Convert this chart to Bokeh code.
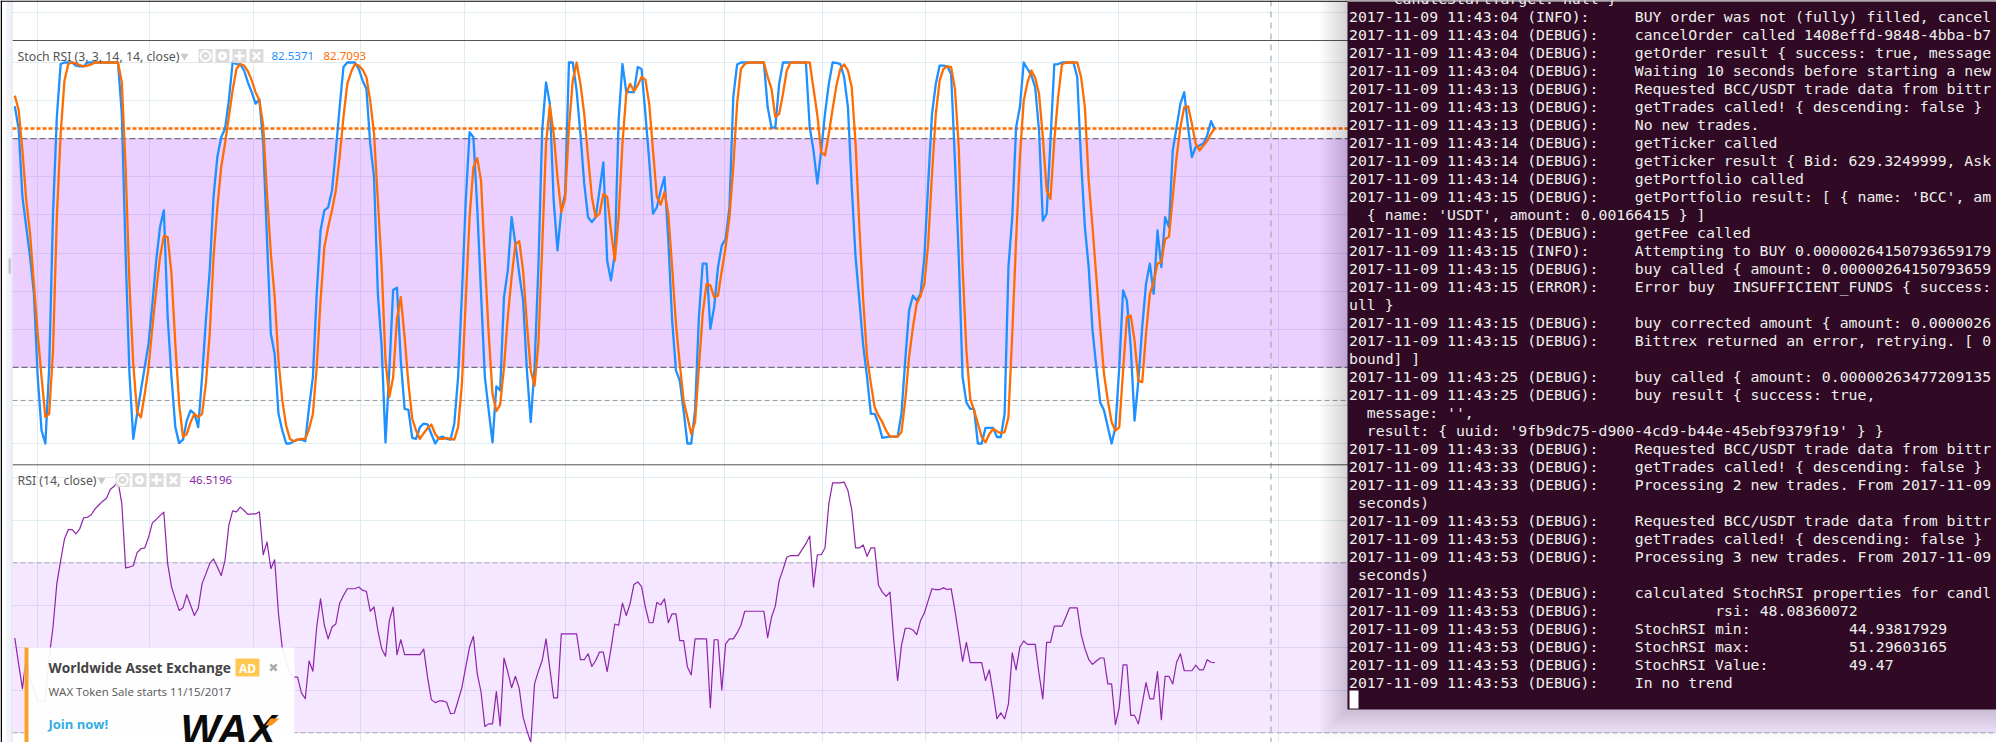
from bokeh.plotting import figure
from bokeh.models import Range1d, Grid, FixedTicker
from bokeh.core.properties import value
from bokeh.embed import file_html
from bokeh.resources import INLINE

stoch_k = [
 88.5,82.6,64.7,56.8,48.9,39.3,17.4,3.4,0,20.0,
 60.3,85.7,99.6,100,100,100,99.2,99,99,100,
 100,100,100,100,100,100,100,100,86.5,49.8,
 18.3,1.2,7.8,13.9,20,26.2,36.7,48,56.8,61.2,
 33.2,17.4,4.3,0.1,1,6,8.7,7.8,4.3,17.4,
 32.3,45.4,64.7,75.2,80.4,82.6,90,100,99.6,99.5,
 97.9,94.8,92.2,89.2,90.3,78.7,53.3,28.8,23.5,7.8,
 3.4,0,0,0.6,1,1,0.6,9.5,17.4,39.3,
 55.9,61.2,62,66.4,76.9,88.3,98.8,100,100,100,
 98.3,95.3,93.1,78.7,69.9,39.3,25.3,0.3,19.2,40.3,
 40.9,21.8,9.1,8.8,1.5,1.2,4.3,5.2,5,2.5,
 0,1.5,1.8,1.2,1,5.2,17.4,39.3,63.8,81.7,
 80.4,62,39.3,17.4,8.7,0.3,15,13.9,38.4,45.4,
 59.4,52.4,44.5,37.5,19.2,5.6,20,46.3,82.2,94.8,
 89.2,63.8,50.7,61.2,65.5,100,100,92.7,81.3,68.2,
 59.4,58.1,59.4,66.4,73.8,48,42.8,49.8,84.8,99.6,
 92.2,92.2,92.2,98.8,98.3,86.5,74.3,60.3,62,66.4,
 69.9,53.3,32.3,19.2,16.5,8.7,0,0,8.7,33.2,
 47.2,47.2,30.1,35.8,46.3,52,53.7,62,90.9,99.5,
 100,100,100,100,100,100,100,88.3,82.9,82.9,
 94.4,100,100,100,100,100,100,100,83,76.9,
 68.2,76.9,86.5,94.4,100,99.9,99.6,96.2,88.3,67.3,
 48.9,37.5,25.7,17.4,7.8,7.8,5.2,1.5,1.7,1.8,
 1.8,1.8,7.8,21.8,34.9,38.8,37.5,39.3,48.9,68.2,
 86.5,94.4,99.2,99.2,99,97,74.3,48.9,17.4,10.8,
 9.1,9.1,0,0,4.1,4.1,4.1,1.7,1.7,7.8,
 46.3,59.4,83,88.3,100,98.3,96.6,93.5,82.2,58.5,
 60.3,79.5,99.5,99.6,100,100,100,100,96.2,74.3,
 56.8,46.3,29.7,20,10.8,8.7,4.3,0,4.3,20,
 40.2,37.5,25.3,6,16.5,30.5,41.9,47.2,39.3,55.9,
 46.3,59.4,56.8,76.9,83,89.2,92.2,83,75.2,77.8,
 78.2,78.7,80.8,84.6,82.5]

stoch_d = [
 91.3,87.6,76.9,63.8,55,41.9,28.8,17.4,6.9,7.8,
 24.4,59.4,81.3,95.3,99.6,100,99.8,99.3,99,99.2,
 99.5,100,100,100,100,100,100,100,94.8,72.5,
 41.9,20.9,8.2,6.9,13,20,30.5,40.2,48.9,54.5,
 54.2,44.5,26.2,10.4,1.8,2.5,5.6,7.8,6.9,7.8,
 15.7,28.8,48.9,62,72.5,78.7,85.7,92.7,98.3,99.6,
 99.2,97.7,95.3,92.2,90,83.5,65.5,49.8,38.4,21.8,
 11.3,4.7,1.2,0.6,1,1.2,1.2,3.8,7.8,20,
 37.5,51.5,56.8,61.2,66.4,75.2,85.7,94.4,97.5,99.6,
 99.2,98.1,96.2,90,81.3,63.8,46.3,21.8,12.2,17.4,
 32.7,38.4,27.9,15.7,6.5,3.4,1.2,2.7,4,5,
 2.5,1.2,1.2,1.5,1.2,1,4.3,15.7,37.5,59.4,
 72.5,74.9,69,48,28.8,13,8.5,10.2,20,33.2,
 43.7,52.4,53.1,45.4,31.4,19.2,15.2,26.2,51.5,78.7,
 88.7,81.3,69.9,60.7,64.2,83,95.3,100,94.4,86.5,
 75.2,64.7,59.4,60.3,65.5,64.7,55.9,48,59.4,78.7,
 91.8,94.4,92.5,94,96.2,95.5,89.2,76.9,64.7,62.7,
 66,60.3,46.3,31.4,20.9,11.3,6.9,2.5,5.6,20,
 34,41.9,41.5,38.4,38.8,45.4,51.5,59.4,72.5,89.2,
 98.3,99.6,100,100,100,100,100,96.2,93.1,85.7,
 86.5,91.8,97.9,100,100,100,100,100,100,93.1,
 86.1,76.5,75.6,81.3,87.8,94,98.3,99.5,97.9,93.5,
 78.7,56.8,37.5,22.7,15.7,9.5,7.3,5.6,3.4,1.8,
 1.8,1.8,3,11.3,22.7,30.5,36.7,38.8,41.9,52.4,
 70.8,86.5,95.3,98.3,99,98.8,93.1,77.8,46.3,24.4,
 11.7,8.7,5.3,1.7,0.3,2.5,3.8,3.2,2.7,3,
 6.9,28.8,53.3,75.2,90,94.8,97.9,96,91.8,80.4,
 66.4,64.2,79.5,90.9,99.5,100,100,100,100,96.2,
 88.3,69,56.8,43.7,30.5,18.3,11.3,5.6,3.4,4.3,
 19.2,33.2,33.6,27,16.5,16.1,28.8,39.3,42.3,47.2,
 47.6,53.7,54.3,64.7,75.2,83,88.3,88.5,83.9,78.7,
 76.9,78.2,79.4,81.3,82.7]

rsi = [
 52.3,46.2,40.4,47.8,42.7,40,37.5,37.4,37.4,47.8,
 54.9,65.1,70.5,75.6,77.8,77.8,76.8,78,80.6,80.7,
 81.3,82.7,83.6,84.5,85.2,87.3,88,89.2,83.9,68.8,
 69,69.3,72.4,73.3,73.5,76,79.4,80.2,81.1,81.9,
 69.8,64.4,61.5,58.8,59.4,62.5,60,57.6,59.3,65.1,
 67.4,69.8,70.9,69,67,70.5,78.8,82.2,82,83.1,
 82.3,81.4,81.5,81.5,82,71.9,74.9,68.6,70.7,58,
 49.8,47,43.9,43.1,43.1,39.4,38,46.9,44.5,54.9,
 61.5,55.3,52.1,54.9,55.6,60.5,62.3,63.9,63.9,63.9,
 64.3,63.5,63.3,58.6,59.6,54.1,49.8,48,56.4,59.6,
 48.4,51.9,48.4,48.4,48.4,48.4,48.4,49.7,43.1,37.8,
 37.1,37.5,37.5,37.2,34.5,34.6,37.6,40.7,45.5,50.2,
 52.7,43.9,39.6,31.5,32.1,32.1,39.7,31.6,47.6,44.3,
 40.6,43.3,40.4,33.7,30.5,27.8,41.5,44.5,47,52.1,
 45.1,38.2,38.2,53.3,53.3,53.3,53.3,53.3,47.2,47.2,
 48.6,45.6,47,49,49,44.4,49.8,55.6,55.3,60.5,
 57.6,60.4,64.9,65.5,64.4,59.6,55.9,55.9,60.7,60.1,
 61.5,55.9,58,58,51.7,51.7,45.5,43.6,52.1,52.1,
 52.1,52.1,35.9,51.9,51.9,40.1,50.9,52.1,52.1,53.5,
 55.3,58.6,58.6,58.6,58.6,58.6,58.6,52.4,57.2,59.8,
 65.8,68.4,71.3,71.7,71.7,71.7,73.1,74.5,76.3,64.3,
 71.9,71.9,73.5,83.9,88.8,88.8,88.8,89,87,82.5,
 73.5,73.5,74.2,71.5,73.5,73.5,64.7,63.1,62.1,63.1,
 51.7,42.3,50.5,54.6,54.6,54.2,53.1,56.4,58.2,61.1,
 63.9,63.7,63.7,64.1,63.7,63.9,58.8,52.9,46.8,51.3,
 46.5,46.5,46.5,46.5,42.3,44.8,39.2,33.3,34.7,33.3,
 36.8,48.8,44.8,50.2,51.6,50.8,50.8,50.8,43.9,38,
 51.3,51.3,55.1,55.1,55.1,57.2,59.4,59.4,59.4,53.3,
 49.8,47.3,46.1,46.9,47.6,47.6,41.5,41.5,31.9,36,
 46,46,34.1,34.1,32.1,36.8,41.8,38,38,44.4,
 33.1,43.3,43.3,41.5,46.6,48.6,44.6,44.6,44.6,45.9,
 44.8,44.8,47.2,46.6,46.5]

assert len(stoch_k) == len(stoch_d) == len(rsi), (len(stoch_k), len(stoch_d), len(rsi))
bars = list(range(len(stoch_k)))

vgrid_bars = [6.07,35.25,62.4,90.5,117.7,144.1,164.5,185.8,211.3,238.3,263.4,288.8,309.2,330.7]
stoch_grid = [0,10,20,30,40,50,60,70,80,90,100]
rsi_grid = [30,40,50,60,70,80,90]
stoch_bands = [80,20]
rsi_bands = [70,30]
stoch_level = 82.7093
stoch_grey_level = 11.3
cursor_bar = 328.7

stamp = "2017-11-09 11:43:"
term_lines = [
 (-1, 5, "candleStartTarget: null }"),
 (0, 0, stamp+"04 (INFO):"), (0, 32, "BUY order was not (fully) filled, cancel"),
 (1, 0, stamp+"04 (DEBUG):"), (1, 32, "cancelOrder called 1408effd-9848-4bba-b7"),
 (2, 0, stamp+"04 (DEBUG):"), (2, 32, "getOrder result { success: true, message"),
 (3, 0, stamp+"04 (DEBUG):"), (3, 32, "Waiting 10 seconds before starting a new"),
 (4, 0, stamp+"13 (DEBUG):"), (4, 32, "Requested BCC/USDT trade data from bittr"),
 (5, 0, stamp+"13 (DEBUG):"), (5, 32, "getTrades called! { descending: false }"),
 (6, 0, stamp+"13 (DEBUG):"), (6, 32, "No new trades."),
 (7, 0, stamp+"14 (DEBUG):"), (7, 32, "getTicker called"),
 (8, 0, stamp+"14 (DEBUG):"), (8, 32, "getTicker result { Bid: 629.3249999, Ask"),
 (9, 0, stamp+"14 (DEBUG):"), (9, 32, "getPortfolio called"),
 (10, 0, stamp+"15 (DEBUG):"), (10, 32, "getPortfolio result: [ { name: 'BCC', am"),
 (11, 2, "{ name: 'USDT', amount: 0.00166415 } ]"),
 (12, 0, stamp+"15 (DEBUG):"), (12, 32, "getFee called"),
 (13, 0, stamp+"15 (INFO):"), (13, 32, "Attempting to BUY 0.00000264150793659179"),
 (14, 0, stamp+"15 (DEBUG):"), (14, 32, "buy called { amount: 0.00000264150793659"),
 (15, 0, stamp+"15 (ERROR):"), (15, 32, "Error buy\u00a0\u00a0INSUFFICIENT_FUNDS { success:"),
 (16, 0, "ull }"),
 (17, 0, stamp+"15 (DEBUG):"), (17, 32, "buy corrected amount { amount: 0.0000026"),
 (18, 0, stamp+"15 (DEBUG):"), (18, 32, "Bittrex returned an error, retrying. [ 0"),
 (19, 0, "bound] ]"),
 (20, 0, stamp+"25 (DEBUG):"), (20, 32, "buy called { amount: 0.00000263477209135"),
 (21, 0, stamp+"25 (DEBUG):"), (21, 32, "buy result { success: true,"),
 (22, 2, "message: '',"),
 (23, 2, "result: { uuid: '9fb9dc75-d900-4cd9-b44e-45ebf9379f19' } }"),
 (24, 0, stamp+"33 (DEBUG):"), (24, 32, "Requested BCC/USDT trade data from bittr"),
 (25, 0, stamp+"33 (DEBUG):"), (25, 32, "getTrades called! { descending: false }"),
 (26, 0, stamp+"33 (DEBUG):"), (26, 32, "Processing 2 new trades. From 2017-11-09"),
 (27, 1, "seconds)"),
 (28, 0, stamp+"53 (DEBUG):"), (28, 32, "Requested BCC/USDT trade data from bittr"),
 (29, 0, stamp+"53 (DEBUG):"), (29, 32, "getTrades called! { descending: false }"),
 (30, 0, stamp+"53 (DEBUG):"), (30, 32, "Processing 3 new trades. From 2017-11-09"),
 (31, 1, "seconds)"),
 (32, 0, stamp+"53 (DEBUG):"), (32, 32, "calculated StochRSI properties for candl"),
 (33, 0, stamp+"53 (DEBUG):"), (33, 41, "rsi: 48.08360072"),
 (34, 0, stamp+"53 (DEBUG):"), (34, 32, "StochRSI min:"), (34, 56, "44.93817929"),
 (35, 0, stamp+"53 (DEBUG):"), (35, 32, "StochRSI max:"), (35, 56, "51.29603165"),
 (36, 0, stamp+"53 (DEBUG):"), (36, 32, "StochRSI Value:"), (36, 56, "49.47"),
 (37, 0, stamp+"53 (DEBUG):"), (37, 32, "In no trend"),
]

# pixel geometry of the two panes
BAR0, BAR_W = 14.3, 3.8217
W, H = 1996, 742
xr = Range1d((0-BAR0)/BAR_W, (W-BAR0)/BAR_W)
yr = Range1d(-(H-443)/3.81, 443/3.81)

p = figure(width=W, height=H, x_axis_type=None, y_axis_type=None, x_range=xr, y_range=yr,
           toolbar_location=None, output_backend="svg", min_border=0, outline_line_color=None,
           background_fill_color="white", border_fill_color="white", tools="",
           styles={"position": "absolute", "left": "0px", "top": "0px"})
p.extra_y_ranges["rsi"] = Range1d(30-(H-732.3)/4.25, 70+562.3/4.25)
p.extra_x_ranges["px"] = Range1d(0, W)
p.extra_y_ranges["py"] = Range1d(H, 0)
PX = dict(x_range_name="px", y_range_name="py")

GRID = "#e1ecf2"
p.add_layout(Grid(dimension=0, ticker=FixedTicker(ticks=vgrid_bars), grid_line_color=GRID))
p.add_layout(Grid(dimension=1, ticker=FixedTicker(ticks=stoch_grid), grid_line_color=GRID))
p.add_layout(Grid(dimension=1, y_range_name="rsi", ticker=FixedTicker(ticks=rsi_grid), grid_line_color=GRID))
p.add_layout(Grid(dimension=1, y_range_name="py", ticker=FixedTicker(ticks=[12]), grid_line_color=GRID))

left, right = (12-BAR0)/BAR_W, (W-BAR0)/BAR_W

# bands
p.quad(left=[left], right=[right], bottom=[stoch_bands[1]], top=[stoch_bands[0]],
       fill_color="#9915ff", fill_alpha=0.2, line_color=None)
p.quad(left=[left], right=[right], bottom=[rsi_bands[1]], top=[rsi_bands[0]],
       fill_color="#9915ff", fill_alpha=0.1, line_color=None, y_range_name="rsi")
for lv in stoch_bands:
    p.line([left, right], [lv, lv], line_color="#5d5068", line_width=1, line_dash="6 3")
for lv in rsi_bands:
    p.line([left, right], [lv, lv], line_color="#b3a8b8", line_width=1, line_dash="5 3", y_range_name="rsi")
p.line([left, right], [stoch_grey_level]*2, line_color="#9a9a9a", line_width=1, line_dash="5 3")

# crosshair
p.line([cursor_bar]*2, [0, H], line_color="#9a9a9a", line_width=1, line_dash="6 5", y_range_name="py")

# pane separators and page edge
p.line([left, right], [40, 40], line_color="#555555", line_width=1, y_range_name="py")
p.line([left, right], [464.3, 464.3], line_color="#555555", line_width=1, y_range_name="py")
p.quad(left=[2], right=[11], bottom=[H], top=[0], fill_color="#ffffff", line_color=None, **PX)
p.quad(left=[6], right=[11], bottom=[H], top=[0], fill_color="#f0f3fa", line_color=None, **PX)
p.quad(left=[11], right=[12], bottom=[H], top=[0], fill_color="#d9dde2", line_color=None, **PX)
p.quad(left=[8], right=[10.5], bottom=[273], top=[258], fill_color="#c4c6c8", line_color=None, **PX)
p.quad(left=[0], right=[1.5], bottom=[H], top=[0], fill_color="#000000", line_color=None, **PX)
p.quad(left=[0], right=[W], bottom=[1.2], top=[0], fill_color="#000000", line_color=None, **PX)

# series
p.line([left, right], [stoch_level]*2, line_color="#ff6d00", line_width=2.5, line_dash="4 2")
p.line(bars, stoch_k, line_color="#1e90ff", line_width=2.3, line_join="round")
p.line(bars, stoch_d, line_color="#ff6d00", line_width=2.3, line_join="round")
p.line(bars, rsi, line_color="#8e24aa", line_width=1.2, line_join="round", y_range_name="rsi")

def label(x, y, text, color="#555555", size="13px", font="Roboto", style="normal", align="left", base="middle"):
    p.text([x], [y], text=[text], text_color=color, text_font_size=size, text_font=value(font),
           text_font_style=style, text_align=align, text_baseline=base, **PX)

def legend(y, title, caret_x, box_x, values):
    label(17, y, title, size="12.3px", font="Noto Sans")
    p.scatter([caret_x], [y], marker="inverted_triangle", size=8, fill_color="#c9c9c9", line_color=None, **PX)
    for i, bx in enumerate(box_x):
        p.quad(left=[bx], right=[bx+14], bottom=[y+7], top=[y-7], fill_color="#dcdcdc", line_color=None, **PX)
    p.scatter([box_x[0]+7], [y], marker="circle_dot", size=10, fill_color=None, line_color="white", line_width=2, **PX)
    p.scatter([box_x[1]+7], [y], marker="circle", size=9, fill_color="white", line_color=None, **PX)
    p.scatter([box_x[1]+7], [y], marker="circle", size=3, fill_color="#dcdcdc", line_color=None, **PX)
    p.scatter([box_x[2]+7], [y], marker="cross", size=10, line_color="white", line_width=2.5, **PX)
    p.scatter([box_x[3]+7], [y], marker="x", size=10, line_color="white", line_width=2.5, **PX)
    for vx, vtxt, vcol in values:
        label(vx, y, vtxt, color=vcol, size="11.5px", font="Noto Sans")

legend(55.5, "Stoch RSI (3, 3, 14, 14, close)", 184, [198, 215, 232, 249],
       [(271, "82.5371", "#1e90ff"), (323, "82.7093", "#ff6d00")])
legend(479.5, "RSI (14, close)", 101, [115, 132, 149, 166], [(189, "46.5196", "#8e24aa")])

# advert
p.quad(left=[24], right=[294], bottom=[H], top=[647], fill_color="white", fill_alpha=0.93, line_color=None, **PX)
p.quad(left=[24], right=[28], bottom=[H], top=[647], fill_color="#f9a02c", line_color=None, **PX)
label(48, 667, "Worldwide Asset Exchange", color="#444444", size="13.7px", font="Open Sans", style="bold")
p.quad(left=[235], right=[259], bottom=[676], top=[658], fill_color="#ffc850", line_color=None, **PX)
label(247, 667.5, "AD", color="white", size="12px", font="Open Sans", style="bold", align="center")
p.scatter([273], [667], marker="x", size=9, line_color="#aaaaaa", line_width=2.5, **PX)
label(48, 691, "WAX Token Sale starts 11/15/2017", color="#555555", size="11.5px", font="Open Sans")
label(48, 723, "Join now!", color="#35ace4", size="13px", font="Open Sans", style="bold")
label(180, 729, "WAX", color="#0b0b0b", size="42px", font="Liberation Sans", style="bold italic")
p.patch([265, 270, 279, 271], [725, 718, 718, 725], fill_color="#f7931e", line_color=None, **PX)

# terminal shadow
for k in range(1, 15):
    p.quad(left=[1347-2*k], right=[W], bottom=[709+2*k], top=[0], fill_color="black", fill_alpha=0.012, line_color=None, **PX)
# terminal
TERM_X, CH_W, LINE_H, LINE0 = 1348.5, 8.93, 18, 16
p.quad(left=[1347], right=[W], bottom=[709], top=[0], fill_color="#300a24", line_color=None, **PX)
p.quad(left=[1347], right=[W], bottom=[1], top=[0], fill_color="#e8f3ee", line_color=None, **PX)
tx = [TERM_X + c*CH_W for _, c, _ in term_lines]
ty = [LINE0 + l*LINE_H for l, _, _ in term_lines]
tt = [s for _, _, s in term_lines]
p.text(tx, ty, text=tt, text_color="#eeeeec", text_font_size="14.8px", text_font=value("DejaVu Sans Mono"),
       text_align="left", text_baseline="middle", **PX)
p.quad(left=[1349], right=[1358], bottom=[708], top=[690], fill_color="#ffffff", line_color=None, **PX)

open("out.html", "w").write(file_html(p, INLINE))
